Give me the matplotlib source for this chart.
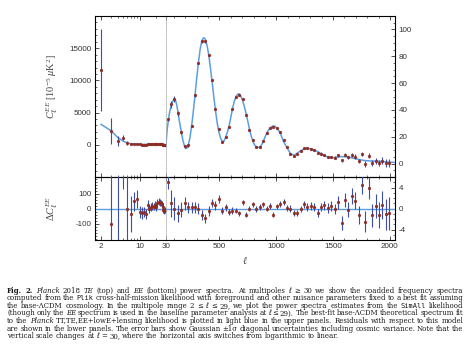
import numpy as np
import matplotlib
matplotlib.use('Agg')
import matplotlib.pyplot as plt
from matplotlib.ticker import MultipleLocator, FixedLocator, NullFormatter

plt.rcParams['font.family'] = ['Liberation Sans', 'DejaVu Sans']
plt.rcParams['axes.unicode_minus'] = False
plt.rcParams['mathtext.fontset'] = 'custom'
plt.rcParams['mathtext.rm'] = 'Liberation Serif'
plt.rcParams['mathtext.it'] = 'Liberation Serif:italic'
plt.rcParams['mathtext.bf'] = 'Liberation Serif:bold'

# ---- low-ell part (2 <= l <= 29), C_l in 1e-5 muK^2 ----
ell_lo = [2, 3, 4, 5, 6, 7, 8, 9, 10, 11, 12, 13, 14, 15, 16, 17, 18, 19,
          20, 21, 22, 23, 24, 25, 26, 27, 28, 29]
cl_lo = [11600, 2100, 600, 1090, 274, 125, 168, 163, 61, 45, 44, 25, 81, 50,
         57, 63, 55, 66, 47, 73, 81, 75, 70, 63, 46, 24, 16, 24]
err_lo = [6400, 2000, 800, 390, 240, 120, 65, 60, 42, 38, 35, 32, 30, 28,
          27, 26, 25, 24, 24, 24, 23, 23, 23, 22, 22, 22, 22, 22]
res_lo = [8430, -100, -550, 520, -6, -35, 48, 63, -24, -30, -24, -37, 24, -2,
          9, 18, 13, 26, 9, 37, 46, 41, 37, 30, 13, -9, -17, -10]

ell_th_lo = [2, 3, 4, 5, 6, 7, 8, 10, 12, 15, 20, 25, 30]
cl_th_lo = [3170, 2200, 1150, 570, 280, 160, 120, 85, 68, 52, 38, 33, 34]

# ---- high-ell part (l >= 30), binned ----
ell_hi = [44.5, 74.5, 104.5, 134.5, 164.5, 194.5, 224.5, 254.5, 284.5, 314.5,
          344.5, 374.5, 404.5, 434.5, 464.5, 494.5, 524.5, 554.5, 584.5, 614.5,
          644.5, 674.5, 704.5, 734.5, 764.5, 794.5, 824.5, 854.5, 884.5, 914.5,
          944.5, 974.5, 1004.5, 1034.5, 1064.5, 1094.5, 1124.5, 1154.5, 1184.5,
          1214.5, 1244.5, 1274.5, 1304.5, 1334.5, 1364.5, 1394.5, 1424.5,
          1454.5, 1484.5, 1514.5, 1544.5, 1574.5, 1604.5, 1634.5, 1664.5,
          1694.5, 1724.5, 1754.5, 1784.5, 1814.5, 1844.5, 1874.5, 1904.5,
          1934.5, 1964.5, 1994.5]
cl_hi = [33.0, 44.2, 47.9, 37.4, 23.2, 13.0, 13.5, 27.9, 50.9, 75.0,
         91.1, 91.1, 81.1, 62.4, 40.4, 25.5, 16.2, 19.9, 27.4, 40.4,
         49.4, 51.1, 47.9, 36.2, 25.4, 17.5, 12.5, 12.5, 17.0, 22.5,
         26.7, 26.9, 26.7, 23.7, 17.5, 12.0, 7.5, 5.5, 7.0,
         9.5, 11.5, 11.7, 11.2, 10.3, 8.1, 7.5, 6.4,
         5.0, 4.8, 4.4, 6.2, 2.4, 6.7, 4.6, 6.7,
         5.2, 1.8, 7.1, -0.3, 5.9, 0.6, 2.2, 0.4,
         2.2, 0.2, 0.2]
res_hi = [5.0, 1.0, 0.0, -0.9, -0.2, 1.0, 0.2, 0.2, 0.2, 0.0,
          -1.2, -1.9, -0.5, 1.0, 0.6, 1.8, -0.4, 0.2, -0.7, -0.4,
          -0.4, -0.9, 1.2, -1.2, 0.0, 0.8, -0.1, 0.3, 0.8, 0.0,
          0.5, -1.2, 0.4, 0.9, 1.2, 0.1, 0.0, -0.9, -0.8,
          -0.1, 0.8, 0.3, 0.5, 0.3, -0.9, 0.3, 0.6,
          0.1, 0.5, -0.1, 1.2, -2.8, 1.6, -0.2, 2.4,
          1.5, -1.3, 4.5, -2.5, 3.9, -1.3, 0.4, -1.3,
          0.7, -1.1, -0.9]
err_hi = [1.2, 2.6, 2.2, 1.6, 1.4, 1.2, 1.1, 1.0, 1.0, 1.0,
          1.0, 0.9, 0.9, 0.8, 0.8, 0.7, 0.7, 0.6, 0.6, 0.6,
          0.5, 0.5, 0.5, 0.5, 0.5, 0.5, 0.5, 0.5, 0.5, 0.5,
          0.5, 0.5, 0.5, 0.55, 0.55, 0.55, 0.6, 0.6, 0.6,
          0.6, 0.7, 0.7, 0.75, 0.75, 0.8, 0.8, 0.9,
          0.9, 1.0, 1.0, 1.2, 1.3, 1.3, 1.4, 1.5,
          1.6, 1.7, 1.8, 2.0, 2.1, 2.2, 2.3, 2.5,
          2.7, 2.9, 3.1]

ell_th_hi = [30, 35, 40, 45, 52, 60, 75, 90, 105, 115, 125, 135, 150, 165, 180,
             195, 205, 215, 225, 240, 255, 270, 285, 300, 315, 330, 345, 360,
             375, 390, 405, 420, 435, 450, 465, 480, 495, 510, 525, 540, 555,
             570, 585, 600, 615, 630, 645, 660, 675, 690, 705, 720, 735, 750,
             765, 780, 795, 810, 825, 840, 855, 870, 885, 900, 915, 930, 945,
             960, 975, 990, 1005, 1020, 1035, 1050, 1065, 1080, 1095, 1110,
             1125, 1140, 1155, 1170, 1185, 1200, 1215, 1245, 1275, 1305, 1335,
             1365, 1395, 1425, 1455, 1485, 1515, 1545, 1575, 1605, 1635, 1665,
             1695, 1725, 1755, 1785, 1815, 1845, 1875, 1905, 1935, 1965, 1995,
             2045]
cl_th_hi = [14, 20, 25, 28.5, 33, 37.5, 43.2, 46.6, 47.9, 46.8, 43.5, 38.3,
            30.5, 23.4, 16.8, 12.4, 11.3, 11.6, 13.3, 19, 27.7, 38.5, 50.7,
            63.5, 75, 85, 91.5, 93.8, 93.0, 88.6, 81.6, 72, 61.4, 50.2, 39.8,
            30.6, 23.7, 19.0, 16.6, 16.7, 19.7, 23.4, 28.1, 34.4, 40.8, 46.1,
            49.8, 51.7, 52.0, 50.0, 46.7, 42.2, 37.4, 31.4, 25.4, 20.5, 16.7,
            13.8, 12.6, 12.1, 12.2, 13.8, 16.2, 19.5, 22.5, 24.8, 26.2, 27.5,
            28.1, 27.8, 26.3, 24.7, 22.8, 19.5, 16.3, 14.0, 11.9, 9.6, 7.5,
            6.7, 6.4, 6.8, 7.8, 8.7, 9.6, 10.7, 11.4, 10.7, 10.0, 9.0, 7.2,
            5.8, 4.9, 4.3, 4.5, 5.0, 5.2, 5.1, 4.8, 4.3, 3.7, 3.1, 2.6, 2.2,
            2.0, 1.9, 1.8, 1.7, 1.5, 1.3, 1.1, 0.8]

# caption: **bold**, *italic*, `mono`
caption = [
    "**Fig.** **2.** *Planck* 2018 *TE* (top) and *EE* (bottom) power spectra. At multipoles *ℓ* ≥ 30 we show the coadded frequency spectra",
    "computed from the `Plik` cross-half-mission likelihood with foreground and other nuisance parameters fixed to a best fit assuming",
    "the base-ΛCDM cosmology. In the multipole range 2 ≤ *ℓ* ≤ 29, we plot the power spectra estimates from the `SimAll` likelihood",
    "(though only the *EE* spectrum is used in the baseline parameter analysis at *ℓ* ≤ 29). The best-fit base-ΛCDM theoretical spectrum fit",
    "to the *Planck* TT,TE,EE+lowE+lensing likelihood is plotted in light blue in the upper panels. Residuals with respect to this model",
    "are shown in the lower panels. The error bars show Gaussian ±1σ diagonal uncertainties including cosmic variance. Note that the",
    "vertical scale changes at *ℓ* = 30, where the horizontal axis switches from logarithmic to linear.",
]

th_col = '#5b9ee0'
pt_col = '#8e2a22'
bar_col = '#3d4ea6'
ax_col = '#333333'

W, H = 474, 355
fig = plt.figure(figsize=(W / 100, H / 100), dpi=100)


def box(x0, x1, y0, y1):
    return [x0 / W, 1 - y1 / H, (x1 - x0) / W, (y1 - y0) / H]


ax_tl = fig.add_axes(box(95, 166, 16, 177))
ax_tr = fig.add_axes(box(166, 395, 16, 177))
ax_bl = fig.add_axes(box(95, 166, 177, 240))
ax_br = fig.add_axes(box(166, 395, 177, 240))

ekw = dict(fmt='o', ms=2.0, mfc=pt_col, mec=pt_col, mew=0.3, ecolor=bar_col,
           elinewidth=0.8, capsize=0, zorder=3)

# top panels
ax_tl.plot(ell_th_lo, cl_th_lo, color=th_col, lw=1.1, zorder=2)
ax_tl.errorbar(ell_lo, cl_lo, yerr=err_lo, **ekw)
ax_tr.plot(ell_th_hi, cl_th_hi, color=th_col, lw=1.1, zorder=2)
ax_tr.errorbar(ell_hi, cl_hi, yerr=err_hi, **ekw)

# residual panels
ax_bl.axhline(0, color=th_col, lw=1.0, zorder=2)
ax_bl.errorbar(ell_lo, res_lo, yerr=err_lo, **ekw)
ax_br.axhline(0, color=th_col, lw=1.0, zorder=2)
ax_br.errorbar(ell_hi, res_hi, yerr=err_hi, **ekw)

for ax in (ax_tl, ax_bl):
    ax.set_xscale('log')
    ax.set_xlim(1.55, 30)
    ax.xaxis.set_major_locator(FixedLocator([2, 10, 30]))
    ax.xaxis.set_minor_locator(FixedLocator([3, 4, 5, 6, 7, 8, 9, 20]))
    ax.xaxis.set_minor_formatter(NullFormatter())
    ax.xaxis.set_major_formatter(plt.FuncFormatter(lambda v, p: '%d' % v))
    ax.spines['right'].set_visible(False)
    ax.tick_params(which='both', direction='in', top=True, bottom=True,
                   left=True, right=False)

for ax in (ax_tr, ax_br):
    ax.set_xlim(30, 2045)
    ax.xaxis.set_major_locator(MultipleLocator(500))
    ax.xaxis.set_minor_locator(MultipleLocator(100))
    ax.spines['left'].set_linestyle((0, (1, 1.5)))
    ax.spines['left'].set_color('#aaaaaa')
    ax.spines['left'].set_linewidth(0.6)
    ax.yaxis.tick_right()
    ax.tick_params(which='both', direction='in', top=True, bottom=True,
                   left=False, right=True)

ax_tl.set_ylim(-5000, 20000)
ax_tl.yaxis.set_major_locator(FixedLocator([0, 5000, 10000, 15000]))
ax_tl.yaxis.set_minor_locator(MultipleLocator(1000))
ax_tr.set_ylim(-10, 110)
ax_tr.yaxis.set_major_locator(FixedLocator([0, 20, 40, 60, 80, 100]))
ax_tr.yaxis.set_minor_locator(MultipleLocator(5))
ax_bl.set_ylim(-210, 210)
ax_bl.yaxis.set_major_locator(FixedLocator([-100, 0, 100]))
ax_bl.yaxis.set_minor_locator(MultipleLocator(20))
ax_br.set_ylim(-6, 6)
ax_br.yaxis.set_major_locator(FixedLocator([-4, 0, 4]))
ax_br.yaxis.set_minor_locator(MultipleLocator(1))

for ax in (ax_tl, ax_tr):
    ax.tick_params(labelbottom=False)

for ax in (ax_tl, ax_tr, ax_bl, ax_br):
    ax.tick_params(which='major', length=3, width=0.6, colors=ax_col,
                   labelsize=5.8, pad=2.5)
    ax.tick_params(which='minor', length=1.6, width=0.5, colors=ax_col)
    for s in ax.spines.values():
        if s.get_linestyle() == '-':
            s.set_color(ax_col)
            s.set_linewidth(0.8)
    ax.set_facecolor('none')

ax_tl.set_ylabel(r'$C_\ell^{EE}\ [10^{-5}\ \mu\mathrm{K}^2]$', fontsize=7.5,
                 color='#444444')
ax_tl.yaxis.set_label_coords(-0.50, 0.56)
ax_bl.set_ylabel(r'$\Delta C_\ell^{EE}$', fontsize=7.5, color='#444444')
ax_bl.yaxis.set_label_coords(-0.50, 0.5)
fig.text(245 / W, 1 - 261 / H, r'$\ell$', fontsize=7, ha='center', va='center',
         color='#444444')

# caption, justified line by line
renderer = fig.canvas.get_renderer()
x0, x1 = 7.0, 463.0
for i, line in enumerate(caption):
    objs = []
    for w in line.split(' '):
        kw = dict(family=['DejaVu Serif', 'DejaVu Sans'])
        if w.startswith('**'):
            kw['weight'] = 'bold'
        elif w.startswith('`'):
            kw['family'] = ['DejaVu Sans Mono', 'DejaVu Sans']
        elif w.startswith('*'):
            kw['style'] = 'italic'
        w = w.replace('*', '').replace('`', '')
        objs.append(fig.text(0, 1 - (292.8 + 7.55 * i) / H, w, fontsize=5.0,
                             va='baseline', color='#1a1a1a', **kw))
    widths = [o.get_window_extent(renderer).width for o in objs]
    if i < len(caption) - 1:
        gap = (x1 - x0 - sum(widths)) / (len(objs) - 1)
    else:
        gap = 2.0
    x = x0
    for o, w in zip(objs, widths):
        o.set_x(x / W)
        x += w + gap

fig.savefig('out.png', dpi=100)
